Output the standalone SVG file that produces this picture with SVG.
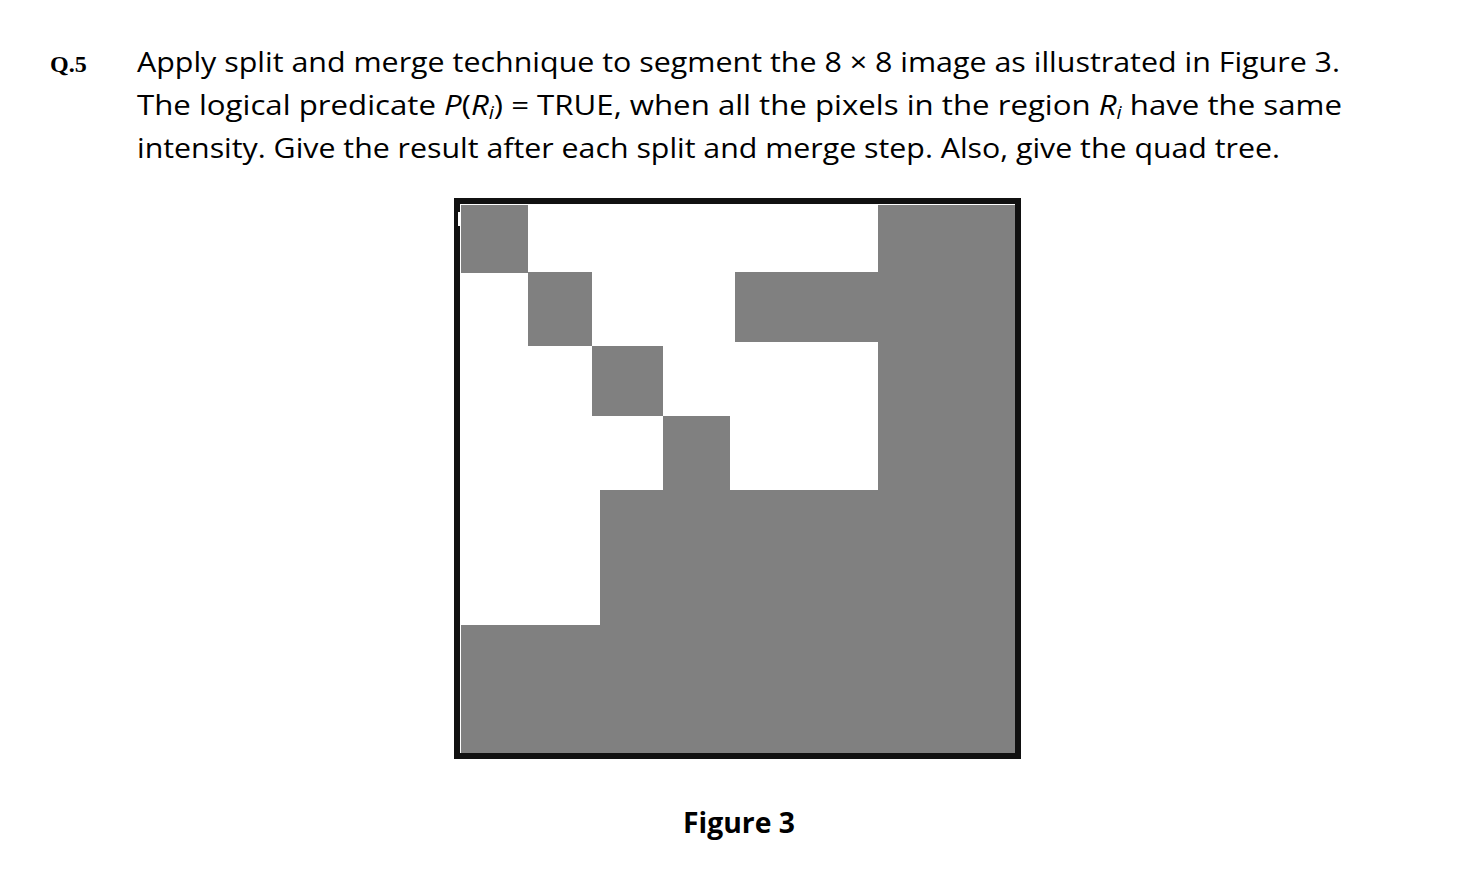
<svg xmlns="http://www.w3.org/2000/svg" width="1480" height="888" viewBox="0 0 1480 888">
<style>
.t{font-family:"Open Sans","Liberation Sans",sans-serif;font-size:28px;fill:#000}
.g{fill:#808080}
</style>
<rect width="1480" height="888" fill="#fff"/>
<text x="50" y="72" font-family="Liberation Serif,serif" font-weight="bold" font-size="24">Q.5</text>
<text class="t" x="137" y="72" textLength="1203" lengthAdjust="spacingAndGlyphs">Apply split and merge technique to segment the 8 × 8 image as illustrated in Figure 3.</text>
<text class="t" x="137" y="115" textLength="1205" lengthAdjust="spacingAndGlyphs">The logical predicate <tspan font-style="italic">P</tspan>(<tspan font-style="italic">R<tspan font-size="18" dy="4">i</tspan></tspan><tspan dy="-4">) = TRUE, when all the pixels in the region </tspan><tspan font-style="italic">R<tspan font-size="18" dy="4">i</tspan></tspan><tspan dy="-4"> have the same</tspan></text>
<text class="t" x="137" y="158" textLength="1143" lengthAdjust="spacingAndGlyphs">intensity. Give the result after each split and merge step. Also, give the quad tree.</text>
<g id="image">
<rect x="461" y="205" width="554" height="548" fill="#fff"/>
<rect class="g" x="461" y="205" width="67" height="68"/>
<rect class="g" x="528" y="272" width="64" height="74"/>
<rect class="g" x="592" y="346" width="71" height="70"/>
<rect class="g" x="663" y="416" width="67" height="75"/>
<rect class="g" x="878" y="205" width="137" height="420"/>
<rect class="g" x="735" y="272" width="143" height="70"/>
<rect class="g" x="600" y="490" width="415" height="136"/>
<rect class="g" x="461" y="625" width="554" height="128"/>
<rect x="457" y="201" width="561" height="555" fill="none" stroke="#111" stroke-width="6"/>
<rect x="458" y="212" width="2" height="14" fill="#fff"/>
</g>
<text x="739" y="833" text-anchor="middle" font-family="Open Sans,Liberation Sans,sans-serif" font-weight="bold" font-size="28" textLength="112" lengthAdjust="spacingAndGlyphs">Figure 3</text>
</svg>
